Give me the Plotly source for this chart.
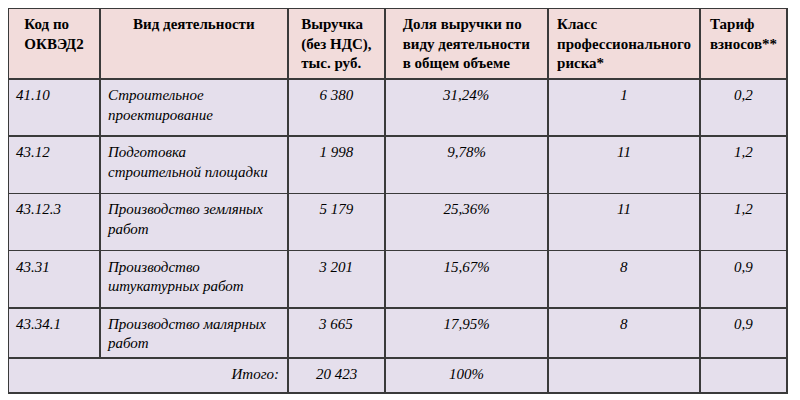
import plotly.graph_objects as go

headers = ["Код по<br>ОКВЭД2", "Вид деятельности", "Выручка<br>(без НДС),<br>тыс. руб.",
           "Доля выручки по<br>виду деятельности<br>в общем объеме", "Класс<br>профессионального<br>риска*", "Тариф<br>взносов**"]
codes = ["41.10", "43.12", "43.12.3", "43.31", "43.34.1"]
activities = ["Строительное<br>проектирование", "Подготовка<br>строительной площадки",
              "Производство земляных<br>работ", "Производство<br>штукатурных работ",
              "Производство малярных<br>работ"]
revenue = ["6 380", "1 998", "5 179", "3 201", "3 665"]
shares = ["31,24%", "9,78%", "25,36%", "15,67%", "17,95%"]
risk_class = ["1", "11", "11", "8", "8"]
tariff = ["0,2", "1,2", "1,2", "0,9", "0,9"]
total_label = "Итого:"
total_revenue = "20 423"
total_share = "100%"

it = lambda lst: ["<i>%s</i>" % s for s in lst]
widths = [92, 188, 97, 163, 152, 87]
font = dict(family="Liberation Serif", size=15, color="black")
line = dict(color="#3a3a3a", width=1.5)

fig = go.Figure()
fig.add_trace(go.Table(
    domain=dict(x=[0, 779/800], y=[0, 1]),
    columnwidth=widths,
    header=dict(values=["<b>%s</b>" % h for h in headers], fill_color="#F2DCDB",
                line=line, font=font, align="center", height=64),
    cells=dict(values=[it(codes), it(activities), it(revenue), it(shares), it(risk_class), it(tariff)],
               fill_color="#E5DFEC", line=line, font=font,
               align=["left", "left", "center", "center", "center", "center"], height=57.2),
))
fig.add_trace(go.Table(
    domain=dict(x=[0, 779/800], y=[0, 1 - 350/400]),
    columnwidth=[widths[0] + widths[1]] + widths[2:],
    header=dict(values=["<i>%s</i>" % total_label, "<i>%s</i>" % total_revenue,
                        "<i>%s</i>" % total_share, "", ""],
                fill_color="#E5DFEC", line=line, font=font,
                align=["right", "center", "center", "center", "center"], height=35),
))
fig.update_layout(width=800, height=400, margin=dict(l=0, r=0, t=0, b=0),
                  paper_bgcolor="white")
fig.write_html("out.html")
